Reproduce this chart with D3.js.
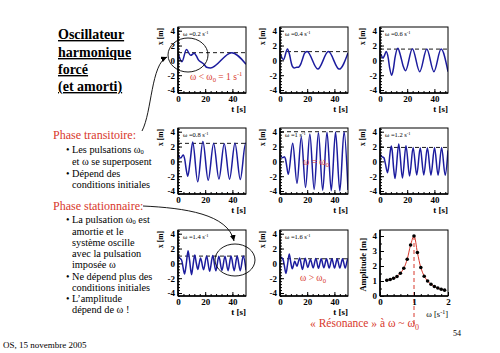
<!DOCTYPE html>
<html>
<head>
<meta charset="utf-8">
<script src="https://cdn.jsdelivr.net/npm/d3@7"></script>
<style>
  body { margin: 0; background: #fff; }
  svg { display: block; font-family: "Liberation Serif", "Times New Roman", serif; }
</style>
</head>
<body>
<div id="chart"></div>
<script>

// ---- data ----
const omegas = [0.2, 0.4, 0.6, 0.8, 1.0, 1.2, 1.4, 1.6];
const steadyAmp = [1.04, 1.18, 1.52, 2.43, 4.0, 1.88, 0.98, 0.62];

// turning points (and a few shoulders) of each x(t) trace
const tW02 = [0, 2.9, 6.2, 9.3, 11.9, 13.5, 15, 17, 19, 21, 23.8, 39.5, 50];
const xW02 = [1, -0.17, 1.45, 0.68, 0.95, 0.6, 0.07, -0.24, -0.5, -0.93, -1.03, 1.04, -0.52];

const tW04 = [0, 2.55, 5.5, 7, 8, 9, 10.5, 12.3, 13.2, 14, 15.4, 16.5, 18, 19.9, 27.8, 35.6, 43.5, 50];
const xW04 = [1, 0.11, 1.55, 0.79, -0.11, -0.77, -1.02, -0.92, -0.93, -0.88, -0.44, 0.16, 0.94, 1.2, -1.18, 1.18, -1.18, 1.01];

const tW06 = [0, 1, 2.2, 3, 4.6, 6, 7, 8.6, 10, 11, 13.1, 15, 17, 18.8, 23.8, 29.2, 34.4, 39.65, 44.9, 50];
const xW06 = [1, 0.66, 0.3, 0.54, 1.19, 0.36, -0.9, -1.99, -0.97, 0.32, 1.65, 0.7, -0.75, -1.39, 1.58, -1.53, 1.52, -1.52, 1.52, -1.52];

const tW08 = [0, 2.0, 3.8, 5, 6, 7.2, 9, 10.8, 14.5, 18.3, 22.2, 26.2, 30.1, 34.0, 37.9, 41.9, 45.8, 49.7, 50];
const xW08 = [1, 0.44, 0.87, 0.23, -1.04, -2.0, 0.13, 2.6, -2.76, 2.69, -2.54, 2.42, -2.38, 2.39, -2.41, 2.43, -2.43, 2.43, 2.37];

const tW10 = [0, 2, 3.2, 4, 5, 6.1, 9.35, 12.5, 15.65, 18.8, 21.95, 25.1, 28.25, 31.4, 34.55, 37.7, 40.84, 43.98, 47.12, 50];
const xW10 = [1, 0.49, 0.63, 0.35, -0.7, -1.73, 2.46, -2.96, 3.3, -3.53, 3.68, -3.78, 3.85, -3.9, 3.93, -3.95, 3.97, -3.98, 3.98, -3.86];

const tW12 = [0, 1, 2, 2.5, 3, 4, 5.5, 6.5, 7, 8.25, 9, 10, 11.05, 13.8, 16.5, 19.1, 21.75, 24.35, 27, 29.6, 32.2, 34.85, 37.45, 40.1, 42.7, 45.3, 47.95, 50];
const xW12 = [1, 0.73, 0.57, 0.55, 0.44, -0.34, -1.52, -0.51, 0.45, 2.07, 1.39, -0.89, -2.31, 2.34, -2.25, 2.11, -1.98, 1.88, -1.83, 1.82, -1.83, 1.85, -1.86, 1.87, -1.88, 1.88, -1.88, 1.48];

const tW14 = [0, 1, 2, 2.5, 3, 3.5, 4.8, 6, 7.4, 8.5, 9.95, 11, 12.3, 13.5, 14.55, 15.5, 16.6, 18.8, 21.05, 23.3, 25.55, 27.8, 30.05, 32.3, 34.55, 36.8, 39.0, 41.3, 43.5, 45.75, 48.0, 50];
const xW14 = [1, 0.75, 0.6, 0.49, 0.2, -0.3, -1.43, -0.2, 1.69, 0.43, -1.52, -0.33, 1.13, -0.02, -0.82, -0.09, 0.73, -0.86, 1.0, -1.07, 1.05, -1.0, 0.95, -0.94, 0.96, -0.98, 0.98, -0.98, 0.98, -0.98, 0.98, -0.93];

const tW16 = [0, 1, 2, 2.5, 3, 4.4, 5.5, 6.8, 8, 9, 10.85, 12.45, 14.45, 16.5, 18.5, 20.45, 22.4, 24.4, 26.35, 28.3, 30.3, 32.25, 34.2, 36.15, 38.15, 40.1, 42.05, 44.0, 46.0, 47.95, 49.9, 50];
const xW16 = [1, 0.78, 0.6, 0.36, -0.09, -1.35, -0.21, 1.28, 0.05, -0.74, 0.27, -0.39, 0.73, -0.83, 0.69, -0.54, 0.53, -0.62, 0.67, -0.66, 0.61, -0.59, 0.61, -0.63, 0.62, -0.62, 0.62, -0.62, 0.62, -0.62, 0.62, 0.615];

// resonance curve
const resOmega = [0.2, 0.3, 0.4, 0.5, 0.6, 0.7, 0.8, 0.9, 1.0, 1.1, 1.2, 1.3, 1.4, 1.5, 1.6, 1.7, 1.8, 1.9];
const resAmp = [1.05, 1.1, 1.18, 1.3, 1.52, 1.85, 2.45, 3.4, 4.0, 2.9, 1.9, 1.32, 1.0, 0.78, 0.63, 0.53, 0.45, 0.39];

// tick labels
const timeTicks = [0, 20, 40];
const posTicks = [-4, -2, 0, 2, 4];
const ampOmegaTicks = [0, 1, 2];
const ampTicks = [0, 1, 2, 3, 4];

const traces = [
    [tW02, xW02], [tW04, xW04], [tW06, xW06],
    [tW08, xW08], [tW10, xW10], [tW12, xW12],
    [tW14, xW14], [tW16, xW16]
];

// ---- layout ----
const width = 500, height = 353;
const colLeft = [178, 280, 380];
const rowTop = [27, 128, 230];
const W = 68, H = 66;
const blue = "#1c1c9e";
const red = "#d8382c";

const svg = d3.select("#chart").append("svg")
    .attr("width", width)
    .attr("height", height);

svg.append("rect").attr("width", width).attr("height", height).attr("fill", "#fff");

const defs = svg.append("defs");
defs.append("marker")
    .attr("id", "arrow")
    .attr("markerUnits", "userSpaceOnUse")
    .attr("markerWidth", 7).attr("markerHeight", 7)
    .attr("refX", 6).attr("refY", 3)
    .attr("orient", "auto")
    .append("path")
    .attr("d", "M0,0 L6,3 L0,6 Z")
    .attr("fill", "#000");

function styleAxis(g, fontSize) {
    g.select(".domain").remove();
    g.selectAll("line").attr("stroke", "#000");
    g.selectAll("text")
        .attr("font-family", "Liberation Serif, serif")
        .attr("font-weight", "bold")
        .attr("font-size", fontSize)
        .attr("fill", "#000");
}

function frame(g, x0, y0) {
    g.append("rect")
        .attr("x", x0).attr("y", y0).attr("width", W).attr("height", H)
        .attr("fill", "none").attr("stroke", "#000").attr("stroke-width", 1);
    g.append("line").attr("x1", x0).attr("x2", x0).attr("y1", y0).attr("y2", y0 + H)
        .attr("stroke", "#000").attr("stroke-width", 1.6);
    g.append("line").attr("x1", x0).attr("x2", x0 + W).attr("y1", y0 + H).attr("y2", y0 + H)
        .attr("stroke", "#000").attr("stroke-width", 1.6);
}

function drawTimePanel(i) {
    let col = i % 3, row = Math.floor(i / 3);
    let x0 = colLeft[col], y0 = rowTop[row];
    let tArr = traces[i][0], xArr = traces[i][1];

    let x = d3.scaleLinear().domain([0, 50]).range([x0, x0 + W]);
    let y = d3.scaleLinear().domain([-4.4, 4.5]).range([y0 + H, y0]);

    let g = svg.append("g");

    defs.append("clipPath").attr("id", "clip" + i)
        .append("rect").attr("x", x0).attr("y", y0).attr("width", W).attr("height", H);

    // steady state amplitude
    g.append("line")
        .attr("x1", x(0)).attr("x2", x(50))
        .attr("y1", y(steadyAmp[i])).attr("y2", y(steadyAmp[i]))
        .attr("stroke", "#000").attr("stroke-width", 0.9)
        .attr("stroke-dasharray", "4,3");

    let line = d3.line()
        .x(d => x(d[0]))
        .y(d => y(d[1]))
        .curve(d3.curveMonotoneX);

    g.append("path")
        .datum(d3.zip(tArr, xArr))
        .attr("clip-path", "url(#clip" + i + ")")
        .attr("d", line)
        .attr("fill", "none")
        .attr("stroke", blue)
        .attr("stroke-width", 1.5);

    // axes (ticks inside the frame)
    let xMinor = g.append("g").attr("transform", `translate(0,${y0 + H})`)
        .call(d3.axisBottom(x).tickValues(d3.range(0, 51, 4)).tickSizeInner(-2).tickSizeOuter(0).tickFormat(""));
    styleAxis(xMinor, 9);
    let xMajor = g.append("g").attr("transform", `translate(0,${y0 + H})`)
        .call(d3.axisBottom(x).tickValues(timeTicks).tickSizeInner(-4).tickSizeOuter(0).tickPadding(3).tickFormat(d => String(d)));
    styleAxis(xMajor, 9);

    let yMinor = g.append("g").attr("transform", `translate(${x0},0)`)
        .call(d3.axisLeft(y).tickValues(d3.range(-4.4, 4.5, 0.4)).tickSizeInner(-2).tickSizeOuter(0).tickFormat(""));
    styleAxis(yMinor, 9);
    let yMajor = g.append("g").attr("transform", `translate(${x0},0)`)
        .call(d3.axisLeft(y).tickValues(posTicks).tickSizeInner(-4).tickSizeOuter(0).tickPadding(3).tickFormat(d => String(d)));
    styleAxis(yMajor, 9);

    frame(g, x0, y0);

    // axis titles
    g.append("text")
        .attr("x", x0 + W).attr("y", y0 + H + 19)
        .attr("text-anchor", "end")
        .attr("font-weight", "bold").attr("font-size", 9)
        .text("t [s]");
    g.append("text")
        .attr("transform", `translate(${x0 - 15},${y0 + 1}) rotate(-90)`)
        .attr("text-anchor", "end")
        .attr("font-weight", "bold").attr("font-size", 7.5)
        .text("x [m]");

    // omega label
    let lab = g.append("text")
        .attr("x", x0 + 5).attr("y", y0 + 9)
        .attr("font-size", 6.5);
    lab.append("tspan").text("ω =" + String(omegas[i]) + " s");
    lab.append("tspan").attr("font-size", 4.5).attr("dy", -2.5).text("-1");
}

d3.range(8).forEach(drawTimePanel);

// ---- resonance panel ----
{
    let x0 = colLeft[2], y0 = rowTop[2];
    let xA = d3.scaleLinear().domain([0, 2]).range([x0, x0 + W]);
    let yA = d3.scaleLinear().domain([0, 4.4]).range([y0 + H, y0]);
    let g = svg.append("g");

    let curve = d3.line()
        .x((d, i) => xA(resOmega[i]))
        .y(d => yA(d))
        .curve(d3.curveCatmullRom.alpha(0.5));

    g.append("path")
        .datum(resAmp)
        .attr("d", curve)
        .attr("fill", "none")
        .attr("stroke", red)
        .attr("stroke-width", 1);

    g.append("line")
        .attr("x1", xA(1)).attr("x2", xA(1))
        .attr("y1", yA(4)).attr("y2", 324)
        .attr("stroke", red).attr("stroke-width", 1)
        .attr("stroke-dasharray", "4,3");

    g.selectAll(".dot")
        .data(resAmp)
        .enter().append("circle")
        .attr("class", "dot")
        .attr("cx", (d, i) => xA(resOmega[i]))
        .attr("cy", d => yA(d))
        .attr("r", 1.8)
        .attr("fill", "#000");

    let xMinor = g.append("g").attr("transform", `translate(0,${y0 + H})`)
        .call(d3.axisBottom(xA).tickValues(d3.range(0, 2.01, 0.2)).tickSizeInner(-2).tickSizeOuter(0).tickFormat(""));
    styleAxis(xMinor, 9);
    let xMajor = g.append("g").attr("transform", `translate(0,${y0 + H})`)
        .call(d3.axisBottom(xA).tickValues(ampOmegaTicks).tickSizeInner(-4).tickSizeOuter(0).tickPadding(3).tickFormat(d => String(d)));
    styleAxis(xMajor, 9);
    let yMinor = g.append("g").attr("transform", `translate(${x0},0)`)
        .call(d3.axisLeft(yA).tickValues(d3.range(0, 4.4, 0.5)).tickSizeInner(-2).tickSizeOuter(0).tickFormat(""));
    styleAxis(yMinor, 9);
    let yMajor = g.append("g").attr("transform", `translate(${x0},0)`)
        .call(d3.axisLeft(yA).tickValues(ampTicks).tickSizeInner(-4).tickSizeOuter(0).tickPadding(3).tickFormat(d => String(d)));
    styleAxis(yMajor, 9);

    frame(g, x0, y0);

    let t = g.append("text")
        .attr("x", x0 + W).attr("y", y0 + H + 21)
        .attr("text-anchor", "end")
        .attr("font-size", 8.5);
    t.append("tspan").text("ω [s");
    t.append("tspan").attr("font-size", 6).attr("dy", -3).text("-1");
    t.append("tspan").attr("dy", 3).text("]");

    g.append("text")
        .attr("transform", `translate(${x0 - 14},${y0 + 8}) rotate(-90)`)
        .attr("text-anchor", "end")
        .attr("font-weight", "bold").attr("font-size", 8.5)
        .text("Amplitude [m]");
}

// ---- annotations ----
function redLabel(x, y, parts, size) {
    let t = svg.append("text").attr("x", x).attr("y", y)
        .attr("font-size", size).attr("fill", red);
    parts.forEach(p => {
        let s = t.append("tspan").text(p[0]);
        if (p[1] === "sub") s.attr("font-size", size * 0.7).attr("dy", size * 0.25);
        if (p[1] === "sup") s.attr("font-size", size * 0.7).attr("dy", -size * 0.4);
        if (p[1] === "back") s.attr("dy", -size * 0.25);
    });
    return t;
}

redLabel(190, 80, [["ω < ω"], ["0", "sub"], [" = 1 s", "back"], ["-1", "sup"]], 9.5);
redLabel(303, 165, [["ω = ω"], ["0", "sub"]], 9.5);
redLabel(300, 281, [["ω > ω"], ["0", "sub"]], 9.5);
redLabel(310, 327, [["« Résonance » à ω ~ ω"], ["0", "sub"]], 11.5);

svg.append("ellipse").attr("cx", 188).attr("cy", 55).attr("rx", 20).attr("ry", 17)
    .attr("fill", "none").attr("stroke", "#000").attr("stroke-width", 0.9);
svg.append("ellipse").attr("cx", 235).attr("cy", 260).attr("rx", 20).attr("ry", 16)
    .attr("fill", "none").attr("stroke", "#000").attr("stroke-width", 0.9);

svg.append("path")
    .attr("d", "M142,131 C152,112 151,64 167,57")
    .attr("fill", "none").attr("stroke", "#000").attr("stroke-width", 0.9)
    .attr("marker-end", "url(#arrow)");
svg.append("path")
    .attr("d", "M143,206 C185,208 228,214 234,241")
    .attr("fill", "none").attr("stroke", "#000").attr("stroke-width", 0.9)
    .attr("marker-end", "url(#arrow)");

// ---- slide text ----
const titleLines = ["Oscillateur", "harmonique", "forcé", "(et amorti)"];
const titleY = [39, 57, 74, 91];
titleLines.forEach((s, i) => {
    svg.append("text")
        .attr("x", 58).attr("y", titleY[i])
        .attr("font-size", 14).attr("font-weight", "bold")
        .attr("text-decoration", "underline")
        .text(s);
});

function heading(s, y) {
    svg.append("text").attr("x", 53).attr("y", y)
        .attr("font-size", 12).attr("fill", red).text(s);
}
function bulletLine(parts, y, bullet) {
    if (bullet) {
        svg.append("text").attr("x", 66).attr("y", y).attr("font-size", 10).text("•");
    }
    let t = svg.append("text").attr("x", 72).attr("y", y).attr("font-size", 10.3);
    parts.forEach(p => {
        let s = t.append("tspan").text(p[0]);
        if (p[1] === "sub") s.attr("font-size", 6.5).attr("dy", 1.2);
        if (p[1] === "back") s.attr("dy", -1.2);
    });
}

heading("Phase transitoire:", 139);
bulletLine([["Les pulsations ω"], ["0", "sub"]], 153, true);
bulletLine([["et ω se superposent"]], 165, false);
bulletLine([["Dépend des"]], 176.5, true);
bulletLine([["conditions initiales"]], 187.5, false);

heading("Phase stationnaire:", 210);
bulletLine([["La pulsation ω"], ["0", "sub"], [" est", "back"]], 223, true);
bulletLine([["amortie et le"]], 234.5, false);
bulletLine([["système oscille"]], 245.5, false);
bulletLine([["avec la pulsation"]], 256.5, false);
bulletLine([["imposée ω"]], 267.5, false);
bulletLine([["Ne dépend plus des"]], 279.5, true);
bulletLine([["conditions initiales"]], 290.5, false);
bulletLine([["L’amplitude"]], 302, true);
bulletLine([["dépend de ω !"]], 313, false);

svg.append("text").attr("x", 3).attr("y", 348).attr("font-size", 9).text("OS, 15 novembre 2005");
svg.append("text").attr("x", 453).attr("y", 336).attr("font-size", 8).text("54");

</script>
</body>
</html>
